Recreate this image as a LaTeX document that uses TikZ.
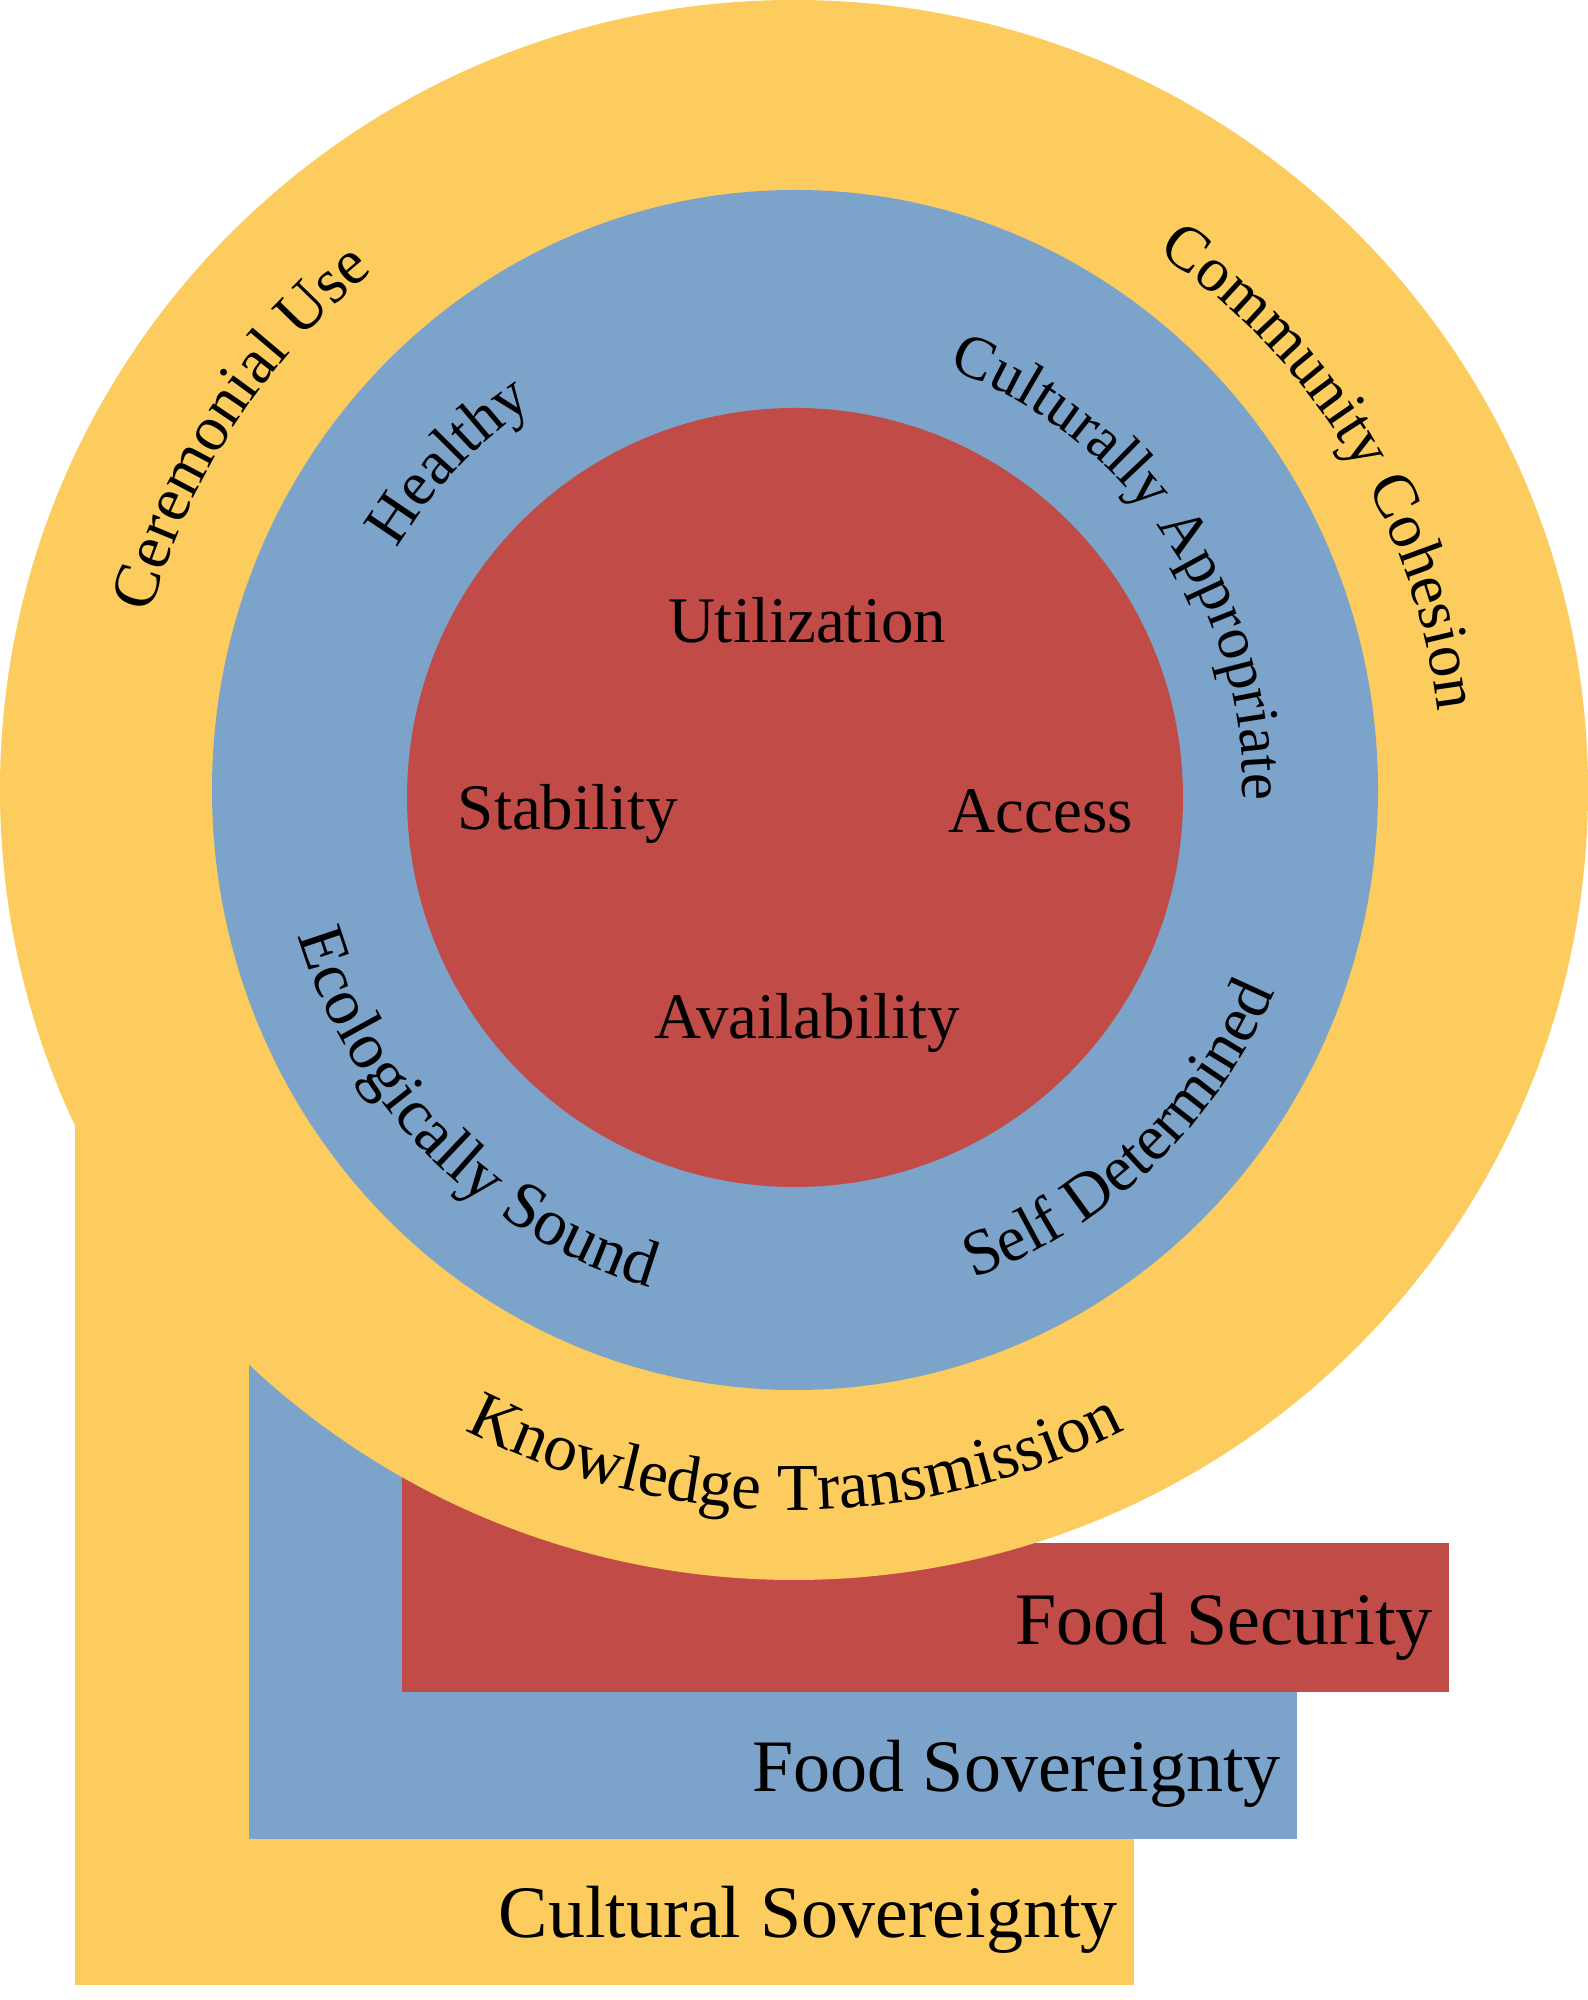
\documentclass[tikz,border=0pt]{standalone}
\usepackage{fontspec}
\setmainfont{Liberation Serif}
\usetikzlibrary{decorations.text,calc}
\definecolor{ycol}{HTML}{FCCC5E}
\definecolor{bcol}{HTML}{7CA3CA}
\definecolor{rcol}{HTML}{C14B47}
\newcommand{\ringlabel}[5]{%
  \path[decorate, decoration={text along path, text align=center,
    text={|\fontsize{#4}{#4}\selectfont|#5}}]
    ($(C)+(#2:#1)$) arc[start angle=#2, end angle=#3, radius=#1];}
\begin{document}
\begin{tikzpicture}[x=0.5pt,y=0.5pt,
  lbl/.style={inner sep=0pt, anchor=base, font=\fontsize{32.5pt}{39pt}\selectfont},
  big/.style={inner sep=0pt, anchor=base east, font=\fontsize{37pt}{44pt}\selectfont}]
\useasboundingbox (0,0) rectangle (1588,2000);
\coordinate (C) at (795,1210);
% bars (under the circles)
\fill[ycol] (75,15) rectangle (400,1000);
\fill[ycol] (75,15) rectangle (1134,300);
\fill[bcol] (249,161) rectangle (500,800);
\fill[bcol] (249,161) rectangle (1297,400);
\fill[rcol] (402,308) rectangle (700,700);
\fill[rcol] (402,308) rectangle (1449,457);
% circles
\fill[ycol] (794,1210) ellipse [x radius=794, y radius=790];
\fill[bcol] (795,1210) ellipse [x radius=583, y radius=600];
\fill[rcol] (795,1202.5) ellipse [x radius=388, y radius=389.5];
% ring labels
\ringlabel{668}{186.9}{106.9}{32pt}{Ceremonial Use}
\ringlabel{466}{166.5}{106.5}{31.5pt}{Healthy}
\ringlabel{448}{84.3}{-15.7}{30.5pt}{Culturally Appropriate}
\ringlabel{648}{71.5}{-8.5}{31.5pt}{Community Cohesion}
\ringlabel{518}{185}{265}{33pt}{Ecologically Sound}
\ringlabel{520}{273.6}{353.6}{32.5pt}{Self Determined}
\ringlabel{720}{230}{310}{33.5pt}{Knowledge Transmission}
% inner labels
\node[lbl] (util) at (807,1357) {Utilization};
\node[lbl] (stab) at (568,1170) {Stability};
\node[lbl] (acc) at (1041,1167) {Access};
\node[lbl] (avail) at (807,961) {Availability};
% bar labels
\node[big] (fsec) at (1433,355) {Food Security};
\node[big] (fsov) at (1281,208) {Food Sovereignty};
\node[big] (csov) at (1118,62) {Cultural Sovereignty};
\end{tikzpicture}
\end{document}
